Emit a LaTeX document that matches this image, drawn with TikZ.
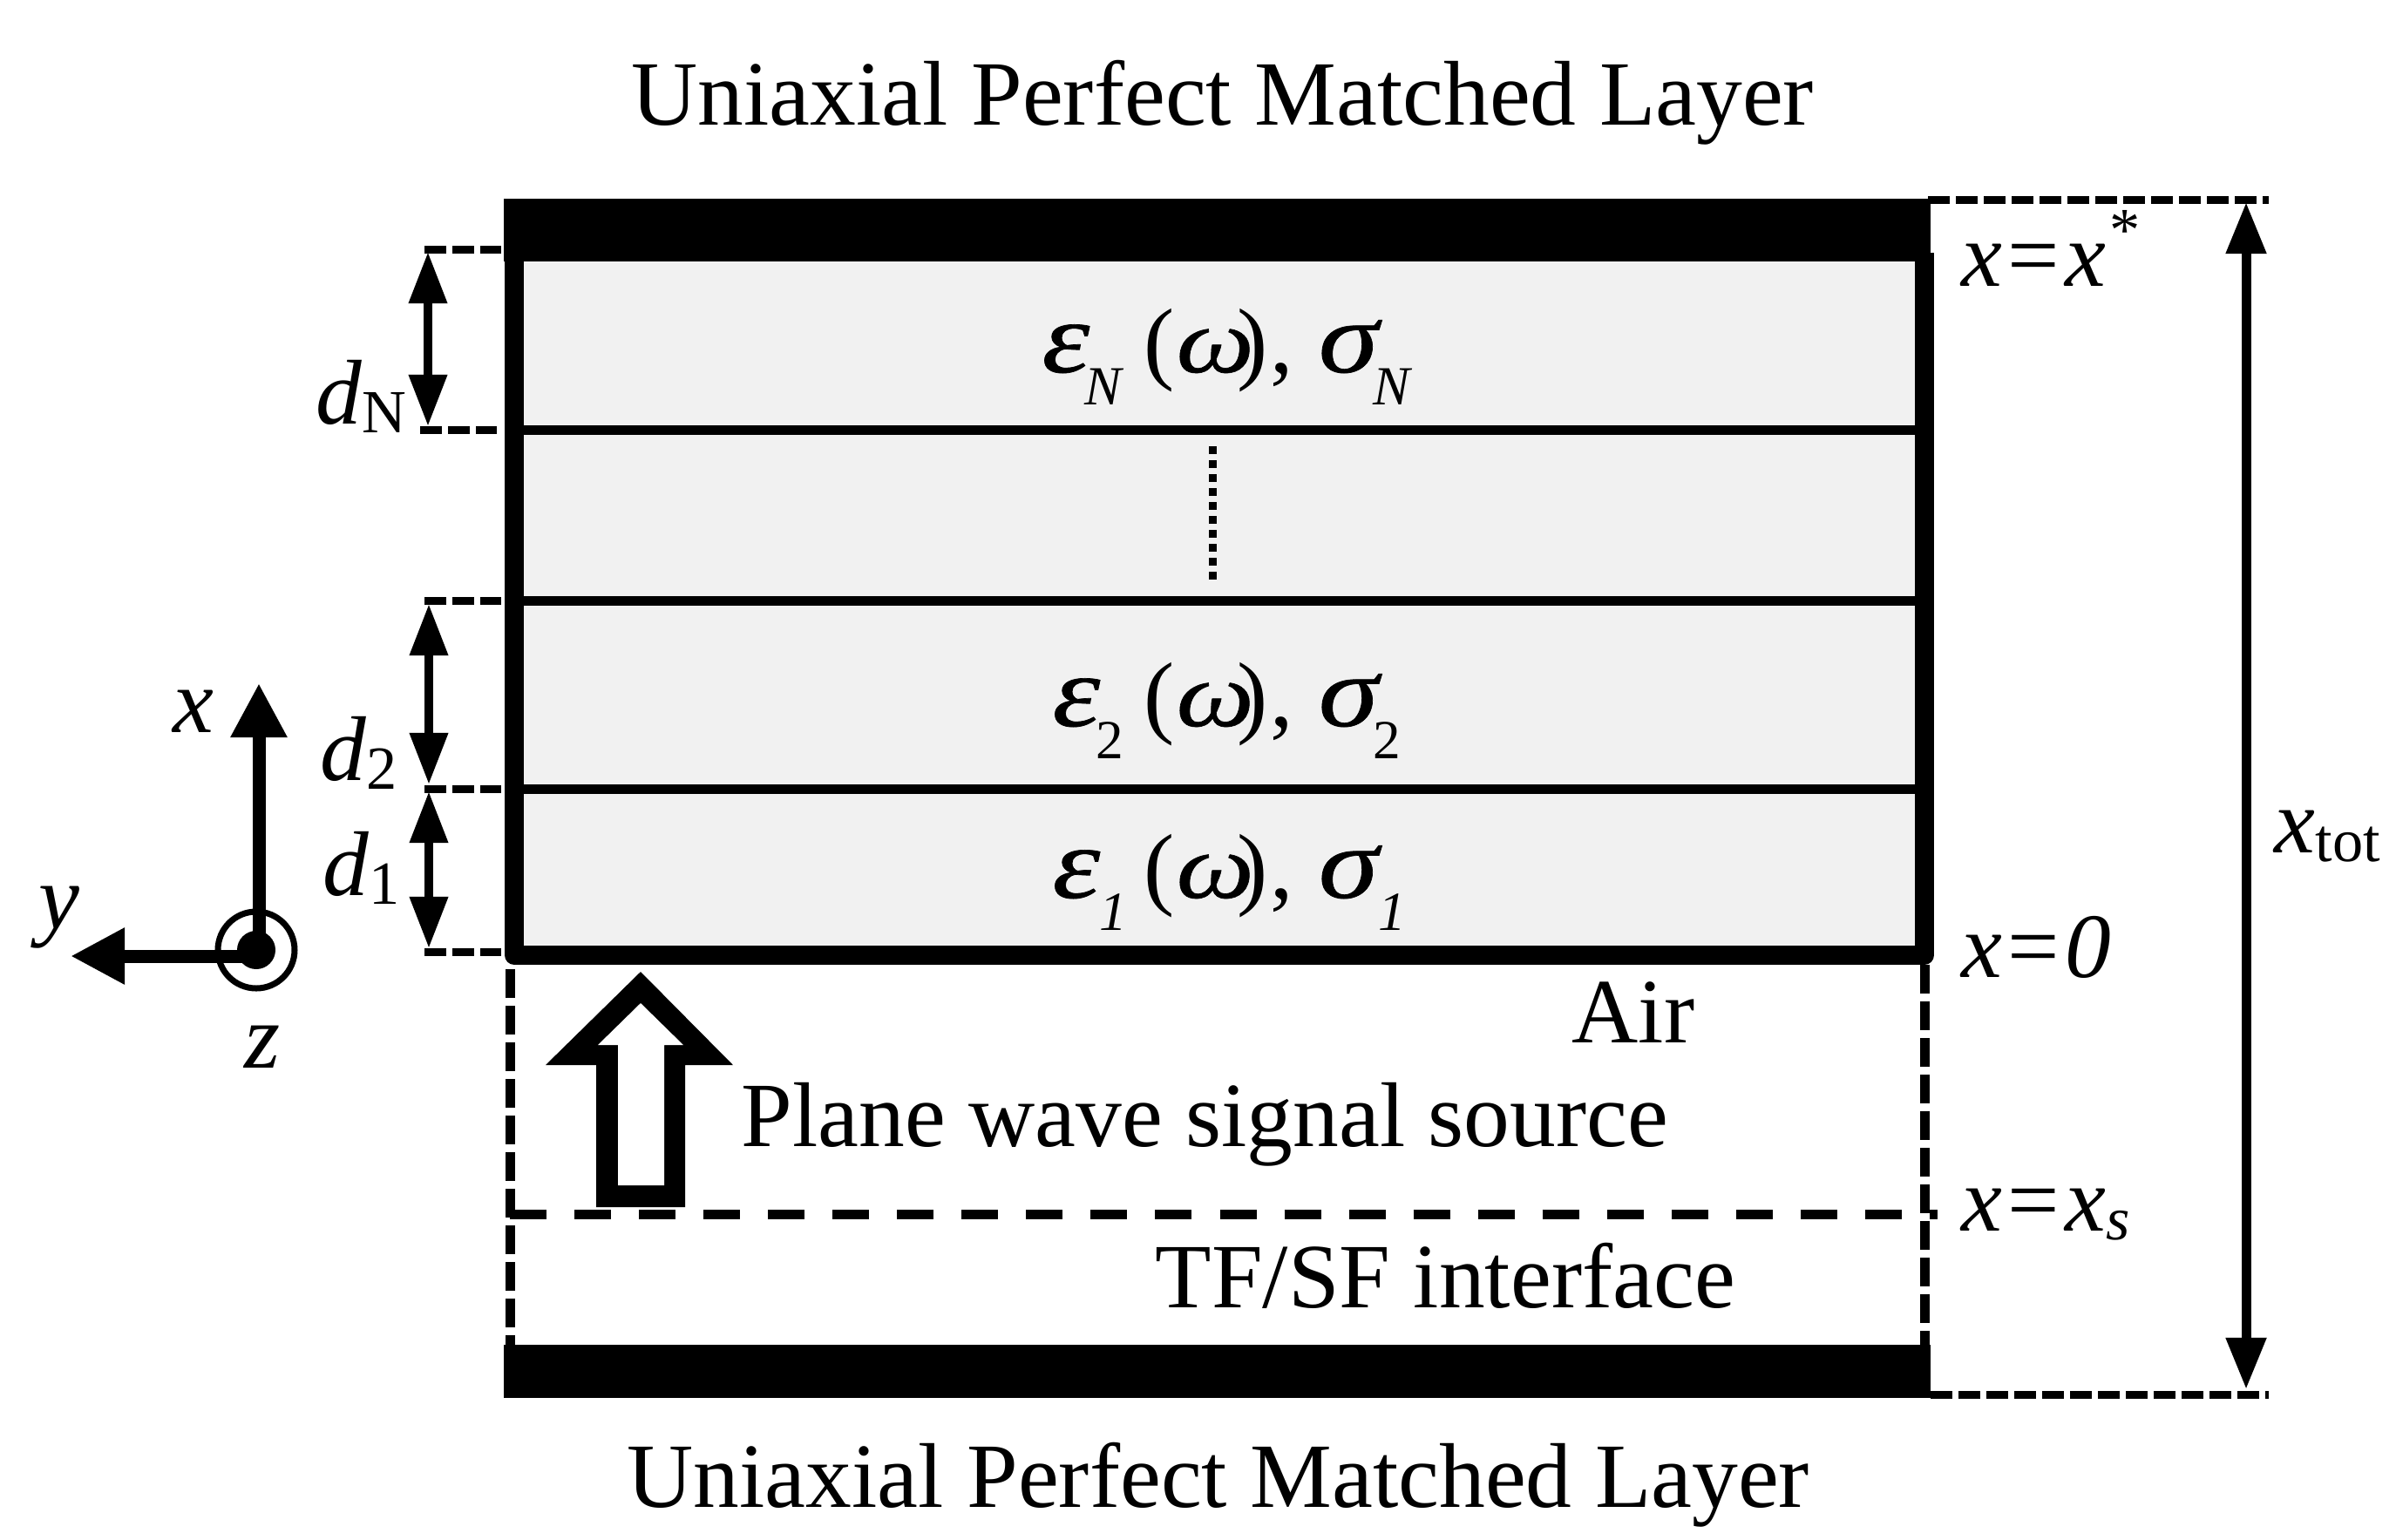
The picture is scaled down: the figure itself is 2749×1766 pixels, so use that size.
\documentclass[tikz,border=0pt]{standalone}
\usepackage{fontspec}
\setmainfont{Liberation Serif}
\newfontface\greekfont{Liberation Serif Italic}[FakeBold=0.6,FakeStretch=1.2]
\usetikzlibrary{arrows.meta}
\definecolor{layerfill}{HTML}{F1F1F1}
\newcommand{\lowtext}[2]{\raisebox{#1}{\fontsize{20}{20}\selectfont #2}}
\newcommand{\putat}[2]{\rlap{\hspace{#1}#2}}
\newcommand{\matrow}[4]{%
  \putat{#1}{\fontsize{33}{40}\greekfont ε}%
  \putat{#2}{\raisebox{-.37cm}{\fontsize{18}{20}\selectfont #4}}%
  \putat{1.17cm}{(}%
  \putat{1.54cm}{\fontsize{30}{36}\greekfont ω}%
  \putat{2.24cm}{)}%
  \putat{2.62cm}{,}%
  \putat{3.17cm}{\fontsize{33}{40}\greekfont σ}%
  \putat{#3}{\raisebox{-.37cm}{\fontsize{18}{20}\selectfont #4}}}
\tikzset{
  lbl/.style={anchor=base west,inner sep=0pt,font=\fontsize{30}{36}\selectfont},
  ilbl/.style={lbl,font=\fontsize{30}{36}\selectfont\itshape},
  tick/.style={line width=.09cm,dash pattern=on .25cm off .07cm},
  edge/.style={line width=.11cm,dash pattern=on .33cm off .09cm},
  dim/.style={line width=.1cm,{Triangle[length=.59cm,width=.42cm]}-{Triangle[length=.59cm,width=.42cm]}},
  axis/.style={line width=.15cm,-{Triangle[length=.62cm,width=.61cm]}},
  layer/.style={line width=.11cm}
}
\begin{document}
\begin{tikzpicture}[x=.01cm,y=-.01cm]
  \useasboundingbox (0,0) rectangle (2749,1766);
  % Schichten
  \fill[layerfill] (590,300) rectangle (2208,1096);
  \fill (578,228) rectangle (2215,300);
  \fill (578,1543) rectangle (2215,1604);
  \foreach \y in {493,689,905}
   \draw[layer] (590,\y) -- (2208,\y);
  \draw[line width=.22cm,line join=round] (590,290) -- (590,1096) -- (2208,1096) -- (2208,290);
  % Luft-Bereich
  \coordinate (airL) at (585,1112);
  \coordinate (airR) at (2208,1107);
  \coordinate (sfL) at (585,1393);
  \coordinate (sfR) at (2223,1393);
  \draw[edge] (airL) -- (585,1543);
  \draw[edge] (airR) -- (2208,1543);
  \draw[line width=.11cm,dash pattern=on .42cm off .32cm] (sfL) -- (sfR);
  % Quelle
  \fill (735,1115) -- (841,1222) -- (786,1222) -- (786,1385) -- (684,1385) -- (684,1222) -- (626,1222) -- cycle;
  \fill[white] (735,1151) -- (784,1199) -- (762,1199) -- (762,1360) -- (709,1360) -- (709,1199) -- (686,1199) -- cycle;
  % Masse links
  \foreach \y/\a/\b in {286/487/575,493/482/570,689/487/575,905/487/575,1092/487/575}
   \draw[tick] (\a,\y) -- (\b,\y);
  \coordinate (dNa) at (491,289);
  \coordinate (dNb) at (491,489);
  \coordinate (dTa) at (492,693);
  \coordinate (dTb) at (492,900);
  \coordinate (dOa) at (492,908);
  \coordinate (dOb) at (492,1088);
  \draw[dim] (dNa) -- (dNb);
  \draw[dim] (dTa) -- (dTb);
  \draw[dim] (dOa) -- (dOb);
  \node[lbl] (dN) at (362,486) {\textit{d}\lowtext{-.1em}{N}};
  \node[lbl] (dT) at (367,895) {\textit{d}\lowtext{-.1em}{2}};
  \node[lbl] (dO) at (370,1027) {\textit{d}\lowtext{-.1em}{1}};
  % Masse rechts
  \coordinate (topL) at (2212,229);
  \coordinate (topR) at (2603,229);
  \coordinate (botL) at (2215,1600);
  \coordinate (botR) at (2603,1600);
  \draw[tick] (topL) -- (topR);
  \draw[tick] (botL) -- (botR);
  \coordinate (totA) at (2577,232);
  \coordinate (totB) at (2577,1594);
  \draw[line width=.11cm,{Triangle[length=.59cm,width=.44cm]}-{Triangle[length=.59cm,width=.44cm]}] (totA) -- (totB);
  \node[lbl] (xtot) at (2609,978) {\textit{x}\lowtext{-.1em}{tot}};
  \node[lbl] (xst) at (2250,328) {\textit{x}\kern.06em=\kern.06em\textit{x}};
  \node[lbl] (star) at (2420,287) {\lowtext{0pt}{*}};
  \node[lbl] (xzero) at (2250,1121) {\textit{x}\kern.06em=\kern.06em\textit{0}};
  \node[lbl] (xsrc) at (2250,1412) {\textit{x}\kern.06em=\kern.06em\textit{x}\lowtext{-.1em}{\textit{s}}};
  % Koordinatensystem
  \coordinate (orig) at (294,1090);
  \coordinate (xtip) at (297,784);
  \coordinate (ytip) at (81,1097);
  \draw[axis] (297,1092) -- (xtip);
  \draw[axis] (295,1097) -- (ytip);
  \draw[line width=.07cm] (orig) circle (44);
  \fill (orig) circle (22);
  \node[ilbl] (xl) at (198,840) {x};
  \node[ilbl] (yl) at (44,1065) {y};
  \node[ilbl] (zl) at (280,1225) {z};
  % Texte
  \node[lbl] (ptop) at (724,143) {Uniaxial Perfect Matched Layer};
  \node[lbl] (pbot) at (719,1729) {Uniaxial Perfect Matched Layer};
  \node[lbl] (lN) at (1193,427) {\matrow{0cm}{.49cm}{3.80cm}{\textit{N}}};
  \node[lbl] (l2) at (1193,833) {\matrow{.12cm}{.62cm}{3.80cm}{2}};
  \node[lbl] (l1) at (1193,1030) {\matrow{.12cm}{.66cm}{3.86cm}{\textit{1}}};
  \node[lbl] (air) at (1803,1196) {Air};
  \node[lbl] (plane) at (850,1315) {Plane wave signal source};
  \node[lbl] (tfsf) at (1325,1500) {TF/SF interface};
  \coordinate (dotA) at (1391.5,512);
  \coordinate (dotB) at (1391.5,666);
  \draw[line width=.09cm,dash pattern=on .09cm off .07cm] (dotA) -- (dotB);
\end{tikzpicture}
\end{document}
